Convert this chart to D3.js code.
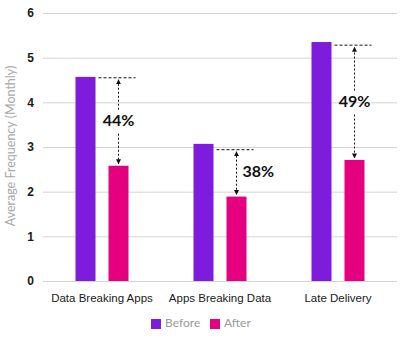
<!DOCTYPE html>
<html>
<head>
<meta charset="utf-8">
<script src="https://cdn.jsdelivr.net/npm/d3@7"></script>
<style>
  body { margin: 0; background: #fff; }
  svg { font-family: Lato, "Open Sans", sans-serif; }
</style>
</head>
<body>
<div id="chart"></div>
<script>
// data
const categories = ['Data Breaking Apps', 'Apps Breaking Data', 'Late Delivery']
const before = [4.57, 3.07, 5.35]
const after = [2.58, 1.89, 2.71]
const reduction = ['44%', '38%', '49%']
// level of the dashed reference line for each arrow (data units)
const dashLevel = [4.55, 2.94, 5.28]
const yTicks = [0, 1, 2, 3, 4, 5, 6]
const seriesNames = ['Before', 'After']
const colors = ['#7d1ddb', '#e4007f']

const fullWidth = 400, fullHeight = 339
const margin = { top: 13, right: 3, bottom: 58, left: 43 }
const width = fullWidth - margin.left - margin.right,
    height = fullHeight - margin.top - margin.bottom

const svg = d3.select('#chart')
    .append('svg')
    .attr('width', fullWidth)
    .attr('height', fullHeight)

svg.append('defs').append('marker')
    .attr('id', 'arrow')
    .attr('viewBox', '0 0 10 10')
    .attr('refX', 9)
    .attr('refY', 5)
    .attr('markerWidth', 5)
    .attr('markerHeight', 5)
    .attr('orient', 'auto-start-reverse')
    .append('path')
    .attr('d', 'M0,0 L10,5 L0,10 z')
    .attr('fill', '#111')

const g = svg.append('g')
    .attr('transform', 'translate(' + margin.left + ',' + margin.top + ')')

const x = d3.scaleBand().domain(categories).range([0, width])
const y = d3.scaleLinear().domain([0, 6]).range([height, 0])
const barW = 20, gap = 13

// gridlines + y ticks
g.append('g')
    .attr('class', 'y-axis')
    .call(d3.axisLeft(y).tickValues(yTicks).tickFormat(d3.format('d')).tickSize(-width).tickPadding(9))
    .call(a => a.select('.domain').remove())
    .call(a => a.selectAll('line').attr('stroke', '#d4d4d4'))
    .call(a => a.selectAll('text')
        .attr('font-size', 12)
        .attr('font-weight', 600)
        .attr('fill', '#1a1a1a'))

g.append('text')
    .attr('transform', 'translate(' + (-33) + ',' + (height / 2 - 1) + ') rotate(-90)')
    .attr('text-anchor', 'middle')
    .attr('dominant-baseline', 'central')
    .attr('font-size', 12.5)
    .attr('fill', '#a8a8a8')
    .text('Average Frequency (Monthly)')

// x axis labels
g.append('g')
    .attr('transform', 'translate(0,' + height + ')')
    .call(d3.axisBottom(x).tickSize(0).tickPadding(13))
    .call(a => a.select('.domain').remove())
    .call(a => a.selectAll('text')
        .attr('font-size', 11.5)
        .attr('fill', '#1a1a1a'))

const bx = (i, s) => x(categories[i]) + x.bandwidth() / 2 + (s === 0 ? -(gap / 2 + barW) : gap / 2)

const bars = g.append('g').attr('class', 'bar')
;[before, after].forEach((vals, s) => {
    bars.selectAll('.s' + s)
        .data(vals)
        .enter()
        .append('rect')
        .attr('x', (d, i) => bx(i, s))
        .attr('y', d => y(d))
        .attr('width', barW)
        .attr('height', d => height - y(d))
        .attr('fill', colors[s])
})

// annotations
const ann = g.append('g').attr('class', 'annotation')
categories.forEach((c, i) => {
    const ax = bx(i, 1) + barW / 2
    const yTop = y(dashLevel[i])
    const yBot = y(after[i])
    ann.append('line')
        .attr('x1', bx(i, 0) + barW + 3)
        .attr('x2', bx(i, 1) + barW + 7)
        .attr('y1', yTop).attr('y2', yTop)
        .attr('stroke', '#111')
        .attr('stroke-width', 1)
        .attr('stroke-dasharray', '3,2')

    const inside = (yBot - yTop) > 60
    const labelY = (yTop + yBot) / 2
    if (inside) {
        ann.append('line')
            .attr('x1', ax).attr('x2', ax)
            .attr('y1', labelY - 12).attr('y2', yTop + 2)
            .attr('stroke', '#111').attr('stroke-dasharray', '2,2')
            .attr('marker-end', 'url(#arrow)')
        ann.append('line')
            .attr('x1', ax).attr('x2', ax)
            .attr('y1', labelY + 12).attr('y2', yBot - 2)
            .attr('stroke', '#111').attr('stroke-dasharray', '2,2')
            .attr('marker-end', 'url(#arrow)')
        ann.append('text')
            .attr('x', ax)
            .attr('y', labelY)
            .attr('text-anchor', 'middle')
            .attr('dominant-baseline', 'middle')
            .attr('font-size', 16)
            .attr('font-weight', 700)
            .attr('fill', '#111')
            .text(reduction[i])
    } else {
        ann.append('line')
            .attr('x1', ax).attr('x2', ax)
            .attr('y1', yTop + 2).attr('y2', yBot - 2)
            .attr('stroke', '#111').attr('stroke-dasharray', '2,2')
            .attr('marker-start', 'url(#arrow)')
            .attr('marker-end', 'url(#arrow)')
        ann.append('text')
            .attr('x', ax + 6)
            .attr('y', labelY)
            .attr('text-anchor', 'start')
            .attr('dominant-baseline', 'middle')
            .attr('font-size', 16)
            .attr('font-weight', 700)
            .attr('fill', '#111')
            .text(reduction[i])
    }
})

// legend
const legend = svg.append('g')
    .attr('transform', 'translate(151,' + 319 + ')')
seriesNames.forEach((n, i) => {
    const lg = legend.append('g').attr('transform', 'translate(' + (i * 59) + ',0)')
    lg.append('rect').attr('width', 10).attr('height', 10).attr('fill', colors[i])
    lg.append('text')
        .attr('x', 14).attr('y', 5)
        .attr('dominant-baseline', 'middle')
        .attr('font-size', 12)
        .attr('fill', '#9a9a9a')
        .text(n)
})
</script>
</body>
</html>
